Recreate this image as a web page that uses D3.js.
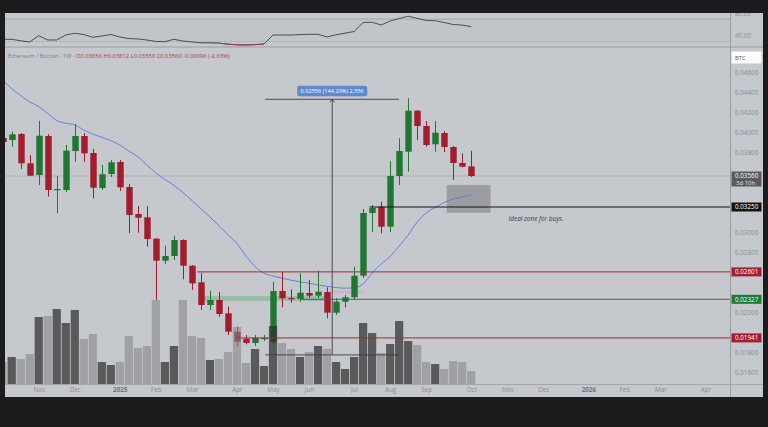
<!DOCTYPE html>
<html><head><meta charset="utf-8">
<script src="https://cdn.jsdelivr.net/npm/d3@7"></script>
<style>html,body{margin:0;padding:0;background:#1c1c1e;overflow:hidden}svg{display:block;font-family:"Open Sans","DejaVu Sans",sans-serif}</style>
</head><body><svg id="c" width="768" height="427"></svg>
<script>
// ---------------- DATA ----------------
const weeks = ["2024-10-07","2024-10-14","2024-10-21","2024-10-28","2024-11-04","2024-11-11","2024-11-18","2024-11-25","2024-12-02","2024-12-09","2024-12-16","2024-12-23","2024-12-30","2025-01-06","2025-01-13","2025-01-20","2025-01-27","2025-02-03","2025-02-10","2025-02-17","2025-02-24","2025-03-03","2025-03-10","2025-03-17","2025-03-24","2025-03-31","2025-04-07","2025-04-14","2025-04-21","2025-04-28","2025-05-05","2025-05-12","2025-05-19","2025-05-26","2025-06-02","2025-06-09","2025-06-16","2025-06-23","2025-06-30","2025-07-07","2025-07-14","2025-07-21","2025-07-28","2025-08-04","2025-08-11","2025-08-18","2025-08-25","2025-09-01","2025-09-08","2025-09-15","2025-09-22","2025-09-29","2025-10-06"];
const open  = [0.03940,0.03920,0.03980,0.03687,0.03570,0.03960,0.03420,0.03420,0.03810,0.03960,0.03790,0.03440,0.03580,0.03700,0.03450,0.03180,0.03147,0.02933,0.02713,0.02760,0.02920,0.02663,0.02497,0.02270,0.02320,0.02187,0.02003,0.01933,0.01890,0.01935,0.01900,0.02410,0.02340,0.02330,0.02390,0.02363,0.02400,0.02193,0.02303,0.02347,0.02563,0.03190,0.03253,0.03053,0.03560,0.03803,0.04213,0.04060,0.03877,0.03990,0.03850,0.03690,0.03656];
const high  = [0.03970,0.04003,0.03990,0.03770,0.04113,0.03980,0.03560,0.03870,0.04077,0.03990,0.03830,0.03670,0.03720,0.03720,0.03480,0.03260,0.03260,0.02940,0.02863,0.02963,0.02927,0.02670,0.02587,0.02413,0.02400,0.02253,0.02053,0.01970,0.01970,0.01970,0.02503,0.02603,0.02427,0.02587,0.02520,0.02613,0.02447,0.02340,0.02370,0.02653,0.03230,0.03270,0.03303,0.03710,0.03937,0.04337,0.04220,0.04110,0.04110,0.04010,0.03860,0.03787,0.03812];
const low   = [0.03860,0.03853,0.03630,0.03560,0.03470,0.03353,0.03187,0.03400,0.03703,0.03700,0.03337,0.03420,0.03550,0.03410,0.02990,0.02993,0.02853,0.02320,0.02677,0.02720,0.02527,0.02420,0.02220,0.02220,0.02153,0.01970,0.01853,0.01877,0.01860,0.01910,0.01873,0.02247,0.02293,0.02303,0.02340,0.02340,0.02137,0.02170,0.02247,0.02320,0.02540,0.03000,0.02987,0.03000,0.03470,0.03603,0.03920,0.03853,0.03803,0.03800,0.03520,0.03647,0.03550];
const close = [0.03900,0.03977,0.03687,0.03563,0.03963,0.03420,0.03430,0.03813,0.03960,0.03787,0.03443,0.03577,0.03697,0.03447,0.03170,0.03143,0.02930,0.02713,0.02760,0.02920,0.02663,0.02487,0.02270,0.02320,0.02180,0.02003,0.01903,0.01890,0.01940,0.01940,0.02410,0.02337,0.02330,0.02393,0.02363,0.02403,0.02193,0.02303,0.02347,0.02563,0.03190,0.03240,0.03053,0.03560,0.03810,0.04213,0.04060,0.03870,0.03993,0.03850,0.03690,0.03653,0.03560];
const volume = [22,27,25,30,67,68,75,61,74,45,50,22,19,22,48,36,38,84,22,38,84,48,46,24,25,32,57,21,35,18,58,41,35,27,32,38,35,22,15,27,61,51,31,40,63,43,39,22,20,15,23,22,13];
const ma = [0.04520,0.04434,0.04363,0.04300,0.04255,0.04185,0.04115,0.04088,0.04072,0.04020,0.03980,0.03947,0.03913,0.03870,0.03810,0.03753,0.03670,0.03590,0.03525,0.03467,0.03395,0.03315,0.03232,0.03150,0.03065,0.02973,0.02885,0.02760,0.02655,0.02588,0.02560,0.02538,0.02518,0.02502,0.02488,0.02470,0.02457,0.02445,0.02438,0.02443,0.02480,0.02590,0.02680,0.02755,0.02860,0.02970,0.03100,0.03190,0.03245,0.03295,0.03330,0.03352,0.03370];
const rsi = [34.2,34.2,31.6,29.5,40.6,33.0,33.0,41.8,44.8,42.7,37.8,40.0,42.7,38.3,35.6,34.8,33.0,30.4,30.0,34.2,31.2,29.5,28.2,28.2,27.7,25.6,24.5,24.2,24.9,25.9,41.8,41.8,41.8,42.5,43.0,43.0,38.3,42.2,45.0,48.0,63.8,64.2,59.4,66.5,70.9,74.9,71.2,67.4,67.0,63.8,60.3,59.4,56.4];
const priceTicks = [0.016,0.018,0.020,0.022,0.024,0.026,0.028,0.030,0.032,0.034,0.036,0.038,0.040,0.042,0.044,0.046];
const timeTicks  = ["2024-11-04","2024-12-02","2025-01-06","2025-02-03","2025-03-03","2025-04-07","2025-05-05","2025-06-02","2025-07-07","2025-08-04","2025-09-01","2025-10-06","2025-11-03","2025-12-01","2026-01-05","2026-02-02","2026-03-02","2026-04-06"];
const timeLabels = ["Nov","Dec","2025","Feb","Mar","Apr","May","Jun","Jul","Aug","Sep","Oct","Nov","Dec","2026","Feb","Mar","Apr"];
const levelPrices = [0.03250,0.02601,0.02327,0.01941];
const levelLabels = ["0.03250","0.02601","0.02327","0.01941"];
const levelFrom   = ["2025-07-19","2025-03-07","2025-05-26","2025-04-07"];
const lastPrice = 0.03560, lastLabel = "0.03560", countdown = "3d 10h";
const legendName = "Ethereum / Bitcoin · 1W ·";
const legendValues = "O0.03656 H0.03812 L0.03550 C0.03560 -0.00096 (-2.63%)";
const measureFrom = "2025-04-29", measureTo = "2025-08-11", measureAt = "2025-06-20";
const measureLow = 0.01771, measureHigh = 0.04327, measureText = "0.02556 (144.29%) 2,556";
const greenZone = {from:"2025-03-08", to:"2025-06-18", lo:0.02310, hi:0.02360};
const pinkZone  = {from:"2025-06-20", to:"2025-07-15", lo:0.02387, hi:0.02413};
const buyZone   = {from:"2025-09-17", to:"2025-10-21", lo:0.03193, hi:0.03470};
const buyText = "Ideal zone for buys.";
const rsiTicks = [40, 80];

// ---------------- SCALES ----------------
const parse = d3.utcParse("%Y-%m-%d");
const svg = d3.select("#c");
const L = 5, R = 730, AX = 763, MT = 47, MB = 384, TB = 397, RT = 13;
const x = d3.scaleUtc().domain([parse("2024-10-14"), parse("2026-04-06")]).range([11.7, 705.5]);
const y = d3.scaleLinear().domain([0.016, 0.046]).range([372, 72]);
const yv = d3.scaleLinear().domain([0, 84]).range([MB, 300]);
const yr = d3.scaleLinear().domain([30, 70]).range([41.7, 19]);
const bw = 6.4, vw = 8.2;
const GREEN = "#1f7731", RED = "#a31b2c";
const data = weeks.map((w,i)=>({d:parse(w),o:open[i],h:high[i],l:low[i],c:close[i],v:volume[i],ma:ma[i],rsi:rsi[i]}));

// ---------------- BACKGROUND ----------------
svg.append("rect").attr("x",0).attr("y",0).attr("width",768).attr("height",427).attr("fill","#1c1c1e");
svg.append("rect").attr("x",L).attr("y",RT).attr("width",AX-L).attr("height",TB-RT).attr("fill","#c5c8cd");
const defs = svg.append("defs");
defs.append("clipPath").attr("id","main").append("rect").attr("x",L).attr("y",MT).attr("width",R-L).attr("height",MB-MT);
defs.append("clipPath").attr("id","rsi").append("rect").attr("x",L).attr("y",RT).attr("width",R-L).attr("height",MT-RT);
defs.append("clipPath").attr("id","rsiLow").append("rect").attr("x",L).attr("y",yr(27.5)).attr("width",R-L).attr("height",MT-yr(27.5));
defs.append("clipPath").attr("id","rsiAx").append("rect").attr("x",R).attr("y",RT).attr("width",AX-R).attr("height",MT-RT);

// ---------------- RSI PANE ----------------
const rp = svg.append("g").attr("clip-path","url(#rsi)");
rp.append("rect").attr("x",L).attr("y",yr(70)).attr("width",R-L).attr("height",yr(30)-yr(70)).attr("fill","#c1c4c9");
rp.append("line").attr("x1",L).attr("x2",R).attr("y1",yr(70)).attr("y2",yr(70)).attr("stroke","#999ca1").attr("stroke-width",0.8);
rp.append("line").attr("x1",L).attr("x2",R).attr("y1",yr(30)).attr("y2",yr(30)).attr("stroke","#999ca1").attr("stroke-width",0.8).attr("stroke-dasharray","1.5,1.5");
const rline = d3.line().x(d=>x(d.d)).y(d=>yr(d.rsi));
rp.append("path").attr("d",rline(data)).attr("fill","none").attr("stroke","#3d3f44").attr("stroke-width",0.9);
rp.append("g").attr("clip-path","url(#rsiLow)").append("path").attr("d",rline(data)).attr("fill","none").attr("stroke","#b0303e").attr("stroke-width",0.9);
svg.append("g").attr("clip-path","url(#rsiAx)").selectAll("text").data(rsiTicks).join("text")
  .attr("x",735).attr("y",d=>yr(d)).attr("dy","0.35em").attr("font-size",6.3).attr("fill","#8a8d92").text(d=>d3.format(".2f")(d));
svg.append("line").attr("x1",L).attr("x2",AX).attr("y1",MT).attr("y2",MT).attr("stroke","#9a9da2").attr("stroke-width",1);

// ---------------- MAIN PANE ----------------
const mp = svg.append("g").attr("clip-path","url(#main)");
mp.append("line").attr("x1",L).attr("x2",R).attr("y1",y(lastPrice)).attr("y2",y(lastPrice)).attr("stroke","#a9acb1").attr("stroke-width",0.8);
mp.append("rect").attr("x",x(parse(greenZone.from))).attr("width",x(parse(greenZone.to))-x(parse(greenZone.from)))
  .attr("y",y(greenZone.hi)).attr("height",y(greenZone.lo)-y(greenZone.hi)).attr("fill","#7fb58a").attr("opacity",0.6);
mp.append("rect").attr("x",x(parse(pinkZone.from))).attr("width",x(parse(pinkZone.to))-x(parse(pinkZone.from)))
  .attr("y",y(pinkZone.hi)).attr("height",y(pinkZone.lo)-y(pinkZone.hi)).attr("fill","#d6a8ae").attr("opacity",0.7);
mp.append("rect").attr("x",x(parse(buyZone.from))).attr("width",x(parse(buyZone.to))-x(parse(buyZone.from)))
  .attr("y",y(buyZone.hi)).attr("height",y(buyZone.lo)-y(buyZone.hi)).attr("fill","#8d8f93").attr("opacity",0.75);
mp.append("path").attr("d",d3.line().x(d=>x(d.d)).y(d=>y(d.ma)).curve(d3.curveMonotoneX)(data))
  .attr("fill","none").attr("stroke","#5a78d8").attr("stroke-width",0.9);
const cg = mp.append("g");
cg.selectAll("line").data(data).join("line")
  .attr("x1",d=>Math.round(x(d.d))+0.5).attr("x2",d=>Math.round(x(d.d))+0.5).attr("y1",d=>y(d.h)).attr("y2",d=>y(d.l))
  .attr("stroke",d=>d.c>=d.o?GREEN:RED).attr("stroke-width",1);
cg.selectAll("rect").data(data).join("rect")
  .attr("x",d=>Math.round(x(d.d))+0.5-bw/2).attr("width",bw)
  .attr("y",d=>y(Math.max(d.o,d.c))).attr("height",d=>Math.max(1.2,Math.abs(y(d.o)-y(d.c))))
  .attr("fill",d=>d.c>=d.o?GREEN:RED);
mp.append("g").selectAll("rect").data(data).join("rect")
  .attr("x",d=>x(d.d)-vw/2).attr("width",vw).attr("y",d=>yv(d.v)).attr("height",d=>yv(0)-yv(d.v))
  .attr("fill",d=>d.c>=d.o?"#2e2f31":"#86878a").attr("opacity",d=>d.c>=d.o?0.72:0.6);
const lvColors = ["#151515","#a8263a","#55585c","#a8263a"];
mp.selectAll("line.lv").data(levelPrices).join("line").attr("class","lv")
  .attr("x1",(d,i)=>x(parse(levelFrom[i]))).attr("x2",R).attr("y1",d=>y(d)).attr("y2",d=>y(d))
  .attr("stroke",(d,i)=>lvColors[i]).attr("stroke-width",1);
const mcol = "#3c3d40";
mp.append("line").attr("x1",x(parse(measureFrom))).attr("x2",x(parse(measureTo))).attr("y1",y(measureHigh)).attr("y2",y(measureHigh)).attr("stroke",mcol).attr("stroke-width",0.9);
mp.append("line").attr("x1",x(parse(measureFrom))).attr("x2",x(parse(measureTo))).attr("y1",y(measureLow)).attr("y2",y(measureLow)).attr("stroke",mcol).attr("stroke-width",0.9);
const mx = x(parse(measureAt));
mp.append("line").attr("x1",mx).attr("x2",mx).attr("y1",y(measureHigh)).attr("y2",y(measureLow)).attr("stroke",mcol).attr("stroke-width",0.9);
mp.append("path").attr("d",`M${mx-2.5},${y(measureHigh)+3}L${mx},${y(measureHigh)}L${mx+2.5},${y(measureHigh)+3}`).attr("fill","none").attr("stroke",mcol).attr("stroke-width",0.9);
const mlab = mp.append("g");
mlab.append("rect").attr("x",mx-35).attr("y",y(measureHigh)-13.5).attr("width",70).attr("height",10.5).attr("rx",2).attr("fill","#5c8ad0");
mlab.append("text").attr("x",mx).attr("y",y(measureHigh)-8.2).attr("dy","0.35em").attr("text-anchor","middle").attr("font-size",5.6).attr("fill","#ffffff").text(measureText);
mp.append("text").attr("x",x(parse(buyZone.to))+18).attr("y",y(buyZone.lo)+8).attr("font-size",6.4).attr("font-style","italic").attr("fill","#3a3b3e").text(buyText);
const lg = svg.append("text").attr("x",8).attr("y",58).attr("font-size",5.8);
lg.append("tspan").attr("fill","#7c7f84").text(legendName+" ");
lg.append("tspan").attr("fill","#b03545").text(legendValues);

// ---------------- AXES ----------------
svg.append("line").attr("x1",R+0.5).attr("x2",R+0.5).attr("y1",RT).attr("y2",TB).attr("stroke","#9a9da2");
svg.append("line").attr("x1",L).attr("x2",AX).attr("y1",MB+0.5).attr("y2",MB+0.5).attr("stroke","#a3a6ab");
const tagPrices = levelPrices.concat([lastPrice]);
const visibleTicks = priceTicks.filter(t=>tagPrices.every(p=>Math.abs(y(t)-y(p))>=8) && !(y(t)>y(lastPrice)-8 && y(t)<y(lastPrice)+16));
const yAxis = svg.append("g").attr("transform",`translate(${R+2},0)`)
  .call(d3.axisRight(y).tickValues(visibleTicks).tickFormat(d3.format(".5f")).tickSize(0).tickPadding(3));
yAxis.select(".domain").remove();
yAxis.selectAll("text").attr("font-size",6.3).attr("fill","#8a8d92").attr("font-family","'Open Sans',sans-serif");
const xAxis = svg.append("g").attr("transform",`translate(0,${MB})`)
  .call(d3.axisBottom(x).tickValues(timeTicks.map(parse)).tickFormat((d,i)=>timeLabels[i]).tickSize(0).tickPadding(4));
xAxis.select(".domain").remove();
xAxis.selectAll("text").attr("font-size",6.3).attr("font-family","'Open Sans',sans-serif")
  .attr("fill",(d,i)=>/^\d/.test(timeLabels[i])?"#6e7176":"#8a8d92").attr("font-weight",(d,i)=>/^\d/.test(timeLabels[i])?"bold":"normal");

svg.append("rect").attr("x",731.5).attr("y",51.5).attr("width",30).attr("height",12).attr("fill","#fbfbfc");
svg.append("text").attr("x",735).attr("y",57.5).attr("dy","0.35em").attr("font-size",5.8).attr("fill","#555").text("BTC");

const tagColors = ["#131313","#a41d30","#1e7a35","#a41d30"];
const tags = svg.append("g");
tags.selectAll("rect").data(levelPrices).join("rect")
  .attr("x",731.5).attr("y",d=>y(d)-4.5).attr("width",30).attr("height",9).attr("fill",(d,i)=>tagColors[i]);
tags.selectAll("text").data(levelPrices).join("text")
  .attr("x",735).attr("y",d=>y(d)).attr("dy","0.35em").attr("font-size",6.3).attr("fill","#fff").text((d,i)=>levelLabels[i]);
svg.append("rect").attr("x",731.5).attr("y",y(lastPrice)-4.5).attr("width",30).attr("height",15).attr("fill","#575a5f");
svg.append("text").attr("x",735).attr("y",y(lastPrice)).attr("dy","0.35em").attr("font-size",6.3).attr("fill","#fff").text(lastLabel);
svg.append("text").attr("x",736).attr("y",y(lastPrice)+7).attr("dy","0.35em").attr("font-size",6).attr("fill","#e6e6e6").text(countdown);
</script></body></html>
